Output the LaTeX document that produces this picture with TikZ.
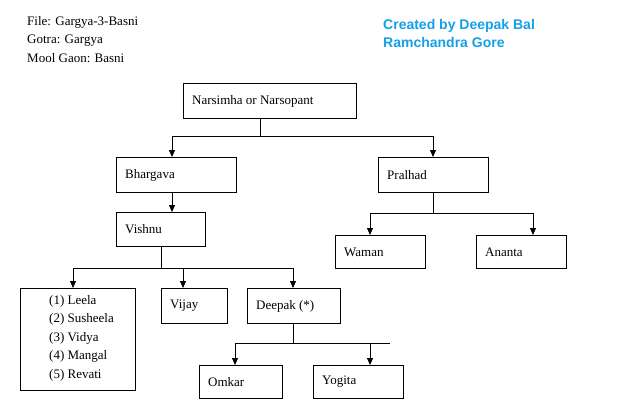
\documentclass[tikz,border=0pt]{standalone}
\usepackage{fontspec}
\setmainfont{Liberation Serif}
\newfontfamily\sansf{Liberation Sans}
\usetikzlibrary{arrows.meta}
\definecolor{credit}{RGB}{20,160,230}
\begin{document}
\begin{tikzpicture}[x=1pt,y=-1pt,
  box/.style={draw,thick,rectangle,inner sep=0pt,anchor=north west},
  lbl/.style={anchor=west,inner sep=0pt,font=\fontsize{13}{15}\selectfont},
  arr/.style={thick,-{Triangle[length=7pt,width=6pt]}},
  ln/.style={thick}]
\useasboundingbox (0,0) rectangle (640,410);
\node[lbl] (f1) at (27,22) {File: Gargya-3-Basni};
\node[lbl] (f2) at (27,41) {Gotra: Gargya};
\node[lbl] (f3) at (27,58) {Mool Gaon: Basni};
\node[anchor=north west,inner sep=0pt,align=left,font=\sansf\bfseries\fontsize{14}{18}\selectfont,text=credit] (cr) at (383,19) {Created by Deepak Bal\\Ramchandra Gore};

\node[box,minimum width=173,minimum height=35] (n) at (183,83) {};
\node[lbl] at ([xshift=9]n.west) {Narsimha or Narsopant};
\node[box,minimum width=120,minimum height=35] (b) at (116,157) {};
\node[lbl] at ([xshift=9]b.west) {Bhargava};
\node[box,minimum width=110,minimum height=35] (p) at (378,157) {};
\node[lbl] at ([xshift=9]p.west) {Pralhad};
\node[box,minimum width=89,minimum height=34] (v) at (116,212) {};
\node[lbl] at ([xshift=9]v.west) {Vishnu};
\node[box,minimum width=90,minimum height=33] (w) at (335,235) {};
\node[lbl] at ([xshift=9]w.west) {Waman};
\node[box,minimum width=90,minimum height=33] (a) at (476,235) {};
\node[lbl] at ([xshift=9]a.west) {Ananta};
\node[box,minimum width=115,minimum height=102] (l) at (20,288) {};
\node[anchor=north west,inner sep=0pt,align=left,font=\fontsize{13}{18.5}\selectfont] at (49,295) {(1) Leela\\(2) Susheela\\(3) Vidya\\(4) Mangal\\(5) Revati};
\node[box,minimum width=66,minimum height=35] (vj) at (161,288) {};
\node[lbl] at ([xshift=9]vj.west) {Vijay};
\node[box,minimum width=93,minimum height=35] (d) at (247,288) {};
\node[lbl] at ([xshift=9]d.west) {Deepak (*)};
\node[box,minimum width=83,minimum height=33] (o) at (199,365) {};
\node[lbl] at ([xshift=9]o.west) {Omkar};
\node[box,minimum width=90,minimum height=33] (y) at (313,365) {};
\node[lbl] at ([xshift=9]y.west) {Yogita};

\coordinate (j1) at (260,136);
\draw[ln] (j1 |- n.south) -- (j1);
\draw[ln] (172,136) -- (433,136);
\draw[arr] (172,136) -- (172,157);
\draw[arr] (433,136) -- (433,157);
\draw[arr] (172,192) -- (172,212);
\draw[ln] (433,192) -- (433,213) (370,213) -- (533,213);
\draw[arr] (370,213) -- (370,235);
\draw[arr] (533,213) -- (533,235);
\draw[ln] (161,246) -- (161,268) (73,268) -- (293,268);
\draw[arr] (73,268) -- (73,288);
\draw[arr] (183,268) -- (183,288);
\draw[arr] (293,268) -- (293,288);
\draw[ln] (293,323) -- (293,343) (235,343) -- (390,343);
\draw[arr] (235,343) -- (235,365);
\draw[arr] (370,343) -- (370,365);
\end{tikzpicture}
\end{document}
